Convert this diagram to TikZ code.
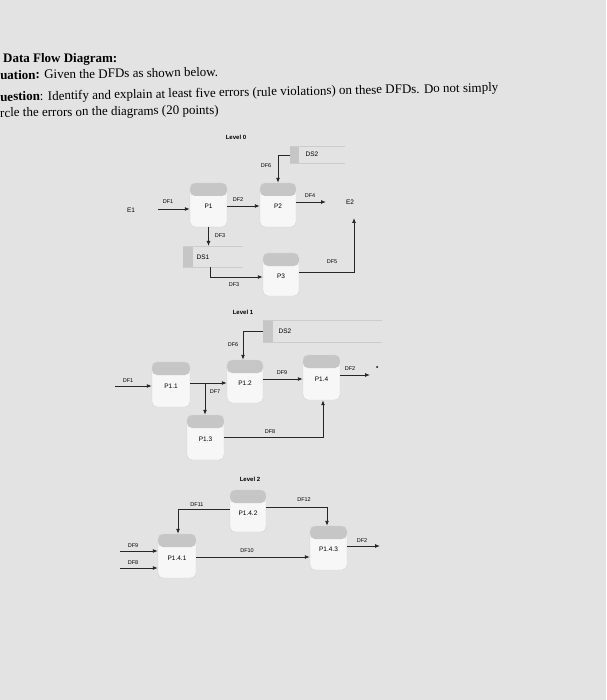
\documentclass[tikz,border=0pt]{standalone}
\usepackage{fontspec}
\setmainfont{Liberation Serif}
\newfontfamily\dfd{Liberation Sans}
\begin{document}
\begin{tikzpicture}[x=1pt,y=-1pt,
  proc/.style={draw=gray!35,fill=gray!6,rounded corners=5pt,inner sep=0pt,font=\dfd\fontsize{6.5}{7}\selectfont,
    path picture={\fill[gray!45] (path picture bounding box.north west) rectangle ([yshift=-13pt]path picture bounding box.north east);}},
  lbl/.style={font=\dfd\fontsize{5.5}{6}\selectfont,inner sep=0pt},
  txt/.style={font=\dfd\fontsize{6.5}{7}\selectfont,inner sep=0pt},
  flow/.style={draw=black!85,line width=0.9pt,-{Latex[length=5pt,width=4pt]}},
  storebar/.style={fill=gray!45},
  storeline/.style={draw=gray!40,line width=0.4pt},
  hdr/.style={font=\fontsize{13}{15}\selectfont,anchor=west,inner sep=0pt}]
\usetikzlibrary{arrows.meta}
\useasboundingbox (0,0) rectangle (606,700);
\fill[gray!22] (0,0) rectangle (606,700);
% header
\node[hdr] (h1) at (3,59) {\textbf{Data Flow Diagram:}};
\node[hdr,rotate=0.8] (h2) at (0,75) {\textbf{uation:} Given the DFDs as shown below.};
\node[hdr,rotate=1.1] (h3) at (0,98) {\textbf{uestion}: Identify and explain at least five errors (rule violations) on these DFDs. Do not simply};
\node[hdr,rotate=0.8] (h4) at (0,114) {rcle the errors on the diagrams (20 points)};
% ===== Level 0
\node[lbl,font=\dfd\bfseries\fontsize{6}{7}\selectfont] (l0) at (236,137) {Level 0};
\fill[storebar] (290,146) rectangle (299,163);
\draw[storeline] (290,146) -- (345,146) (290,163) -- (345,163);
\node[txt] (ds2a) at (312,154) {DS2};
\coordinate (ds2aL) at (290,155);
\node[proc,minimum width=37pt,minimum height=44pt] (p1) at (208.5,205) {\raisebox{-8pt}{P1}};
\node[proc,minimum width=36pt,minimum height=44pt] (p2) at (278,205) {\raisebox{-8pt}{P2}};
\node[txt] (e1) at (131,210) {E1};
\node[txt] (e2) at (350,202) {E2};
\coordinate (e1r) at (158,209);
\draw[flow] (e1r) -- (p1.west |- e1r);
\node[lbl] at (168,202) {DF1};
\draw[flow] (227,206) -- (p2.west |- 0,206);
\node[lbl] at (238,200) {DF2};
\coordinate (e2w) at (326,202);
\draw[flow] (p2.east |- e2w) -- (e2w);
\node[lbl] at (310,196) {DF4};
\draw[flow] (ds2aL) -| (p2.north);
\node[lbl] at (266,166) {DF6};
\fill[storebar] (183,246) rectangle (193,267);
\draw[storeline] (183,246) -- (243,246) (183,267) -- (243,267);
\node[txt] (ds1) at (203,257) {DS1};
\draw[flow] (p1.south) -- (p1.south |- 0,246);
\node[lbl] at (220,236) {DF3};
\node[proc,minimum width=36pt,minimum height=43pt] (p3) at (281,274.5) {\raisebox{-8pt}{P3}};
\draw[flow] (210,267) |- (p3.west |- 0,277);
\node[lbl] at (234,285) {DF3};
\coordinate (e2s) at (354,218);
\draw[flow] (p3.east |- 0,272) -| (e2s);
\node[lbl] at (332,262) {DF5};
% ===== Level 1
\node[lbl,font=\dfd\bfseries\fontsize{6}{7}\selectfont] (l1) at (243,312) {Level 1};
\fill[storebar] (263,320) rectangle (273,342);
\draw[storeline] (263,320) -- (382,320) (263,342) -- (382,342);
\node[txt] (ds2b) at (285,331) {DS2};
\node[proc,minimum width=38pt,minimum height=45pt] (p11) at (171,384.5) {\raisebox{-8pt}{P1.1}};
\node[proc,minimum width=36pt,minimum height=43pt] (p12) at (245,381.5) {\raisebox{-8pt}{P1.2}};
\node[proc,minimum width=37pt,minimum height=45pt] (p13) at (205.5,437.5) {\raisebox{-8pt}{P1.3}};
\node[proc,minimum width=37pt,minimum height=45pt] (p14) at (321.5,377.5) {\raisebox{-8pt}{P1.4}};
\draw[flow] (263,331) -| (p12.north -| 243,0);
\node[lbl] at (233,345) {DF6};
\coordinate (in1) at (115,386);
\draw[flow] (in1) -- (p11.west |- in1);
\node[lbl] at (128,381) {DF1};
\draw[flow] (p11.east |- 0,383) -- (p12.west |- 0,383);
\draw[flow] (205,383) -- (p13.north -| 205,0);
\node[lbl] at (215,392) {DF7};
\draw[flow] (p12.east |- 0,379) -- (p14.west |- 0,379);
\node[lbl] at (282,373) {DF9};
\coordinate (o2) at (370,375);
\draw[flow] (p14.east |- o2) -- (o2);
\node[lbl] at (350,369) {DF2};
\fill (377,367) circle (1pt);
\draw[flow] (p13.east |- 0,437) -| (p14.south -| 323,0);
\node[lbl] at (270,432) {DF8};
% ===== Level 2
\node[lbl,font=\dfd\bfseries\fontsize{6}{7}\selectfont] (l2) at (250,479) {Level 2};
\node[proc,minimum width=36pt,minimum height=42pt] (p142) at (248,511) {\raisebox{-8pt}{P1.4.2}};
\node[proc,minimum width=38pt,minimum height=44pt] (p141) at (177,556) {\raisebox{-8pt}{P1.4.1}};
\node[proc,minimum width=37pt,minimum height=44pt] (p143) at (328.5,548) {\raisebox{-8pt}{P1.4.3}};
\draw[flow] (p142.west |- 0,509) -| (p141.north -| 178,0);
\node[lbl] at (197,505) {DF11};
\draw[flow] (p142.east |- 0,507) -| (p143.north -| 327,0);
\node[lbl] at (304,500) {DF12};
\coordinate (i9) at (120,551);
\coordinate (i8) at (120,568);
\draw[flow] (i9) -- (p141.west |- i9);
\draw[flow] (i8) -- (p141.west |- i8);
\node[lbl] at (133,546) {DF9};
\node[lbl] at (133,563) {DF8};
\draw[flow] (p141.east |- 0,557) -- (p143.west |- 0,557);
\node[lbl] at (247,551) {DF10};
\coordinate (o3) at (380,546);
\draw[flow] (p143.east |- o3) -- (o3);
\node[lbl] at (362,541) {DF2};
\end{tikzpicture}
\end{document}
